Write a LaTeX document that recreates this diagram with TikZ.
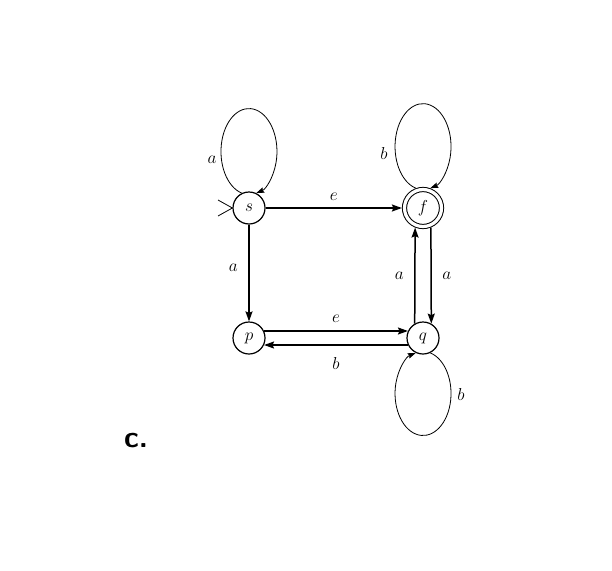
\documentclass[tikz,border=0pt]{standalone}
\usepackage{amsmath,amssymb}
\usepackage{tikz}
\usetikzlibrary{arrows.meta,positioning}

\begin{document}
\begin{tikzpicture}[x=1pt, y=-1pt,
    >={Stealth[length=10pt,width=7pt,inset=1.5pt]},
    state/.style={draw, circle, line width=1.2pt, minimum size=32pt, inner sep=0pt, font=\fontsize{17}{20}\selectfont},
    final/.style={state, double, double distance=3.2pt, line width=1pt, minimum size=37pt, outer sep=2.6pt},
    trans/.style={->, line width=1.5pt},
    selfloop/.style={-{Stealth[length=8pt,width=5.5pt,inset=1pt]}, line width=0.8pt},
    lbl/.style={font=\fontsize{17}{20}\selectfont, inner sep=1pt}]
    \useasboundingbox (0,0) rectangle (612,570);

    % States
    \node[state] (s) at (249,208) {$s$};
    \node[final] (f) at (423,208) {$f$};
    \node[state] (p) at (249,338) {$p$};
    \node[state] (q) at (423,338) {$q$};

    % Start marker
    \coordinate (in1) at (218,200);
    \coordinate (in2) at (218,216);
    \draw[line width=0.8pt] (in1) -- (s.west) -- (in2);

    % Transitions
    \draw[trans] (s) -- node[lbl, above=5.8pt] {$e$} (f);
    \draw[trans] (s) -- node[lbl, pos=0.45, left=9.5pt] {$a$} (p);
    \draw[trans] (q.120) -- node[lbl, left=9.5pt] {$a$} (f.-112);
    \draw[trans] (f.-68) -- node[lbl, right=9.5pt] {$a$} (q.60);
    \draw[trans] (p.25) -- node[lbl, above=6.4pt] {$e$} (q.155);
    \draw[trans] (q.-155) -- node[lbl, below=11pt] {$b$} (p.-25);

    % Self loops
    \draw[selfloop] (s.116) arc[start angle=-105, end angle=-435, x radius=28pt, y radius=43pt];
    \draw[selfloop] (f.110) arc[start angle=-105, end angle=-435, x radius=28pt, y radius=43pt];
    \draw[selfloop] (q.-64) arc[start angle=75, end angle=-255, x radius=28pt, y radius=42pt];
    \node[lbl] (la) at (212,160) {$a$};
    \node[lbl] (lb) at (384,153) {$b$};
    \node[lbl] (lc) at (461,394) {$b$};

    % Panel tag
    \node[font=\fontsize{30}{34}\selectfont\sffamily\bfseries, anchor=base west, inner sep=0pt] (tag) at (124,447) {c.};
\end{tikzpicture}
\end{document}
